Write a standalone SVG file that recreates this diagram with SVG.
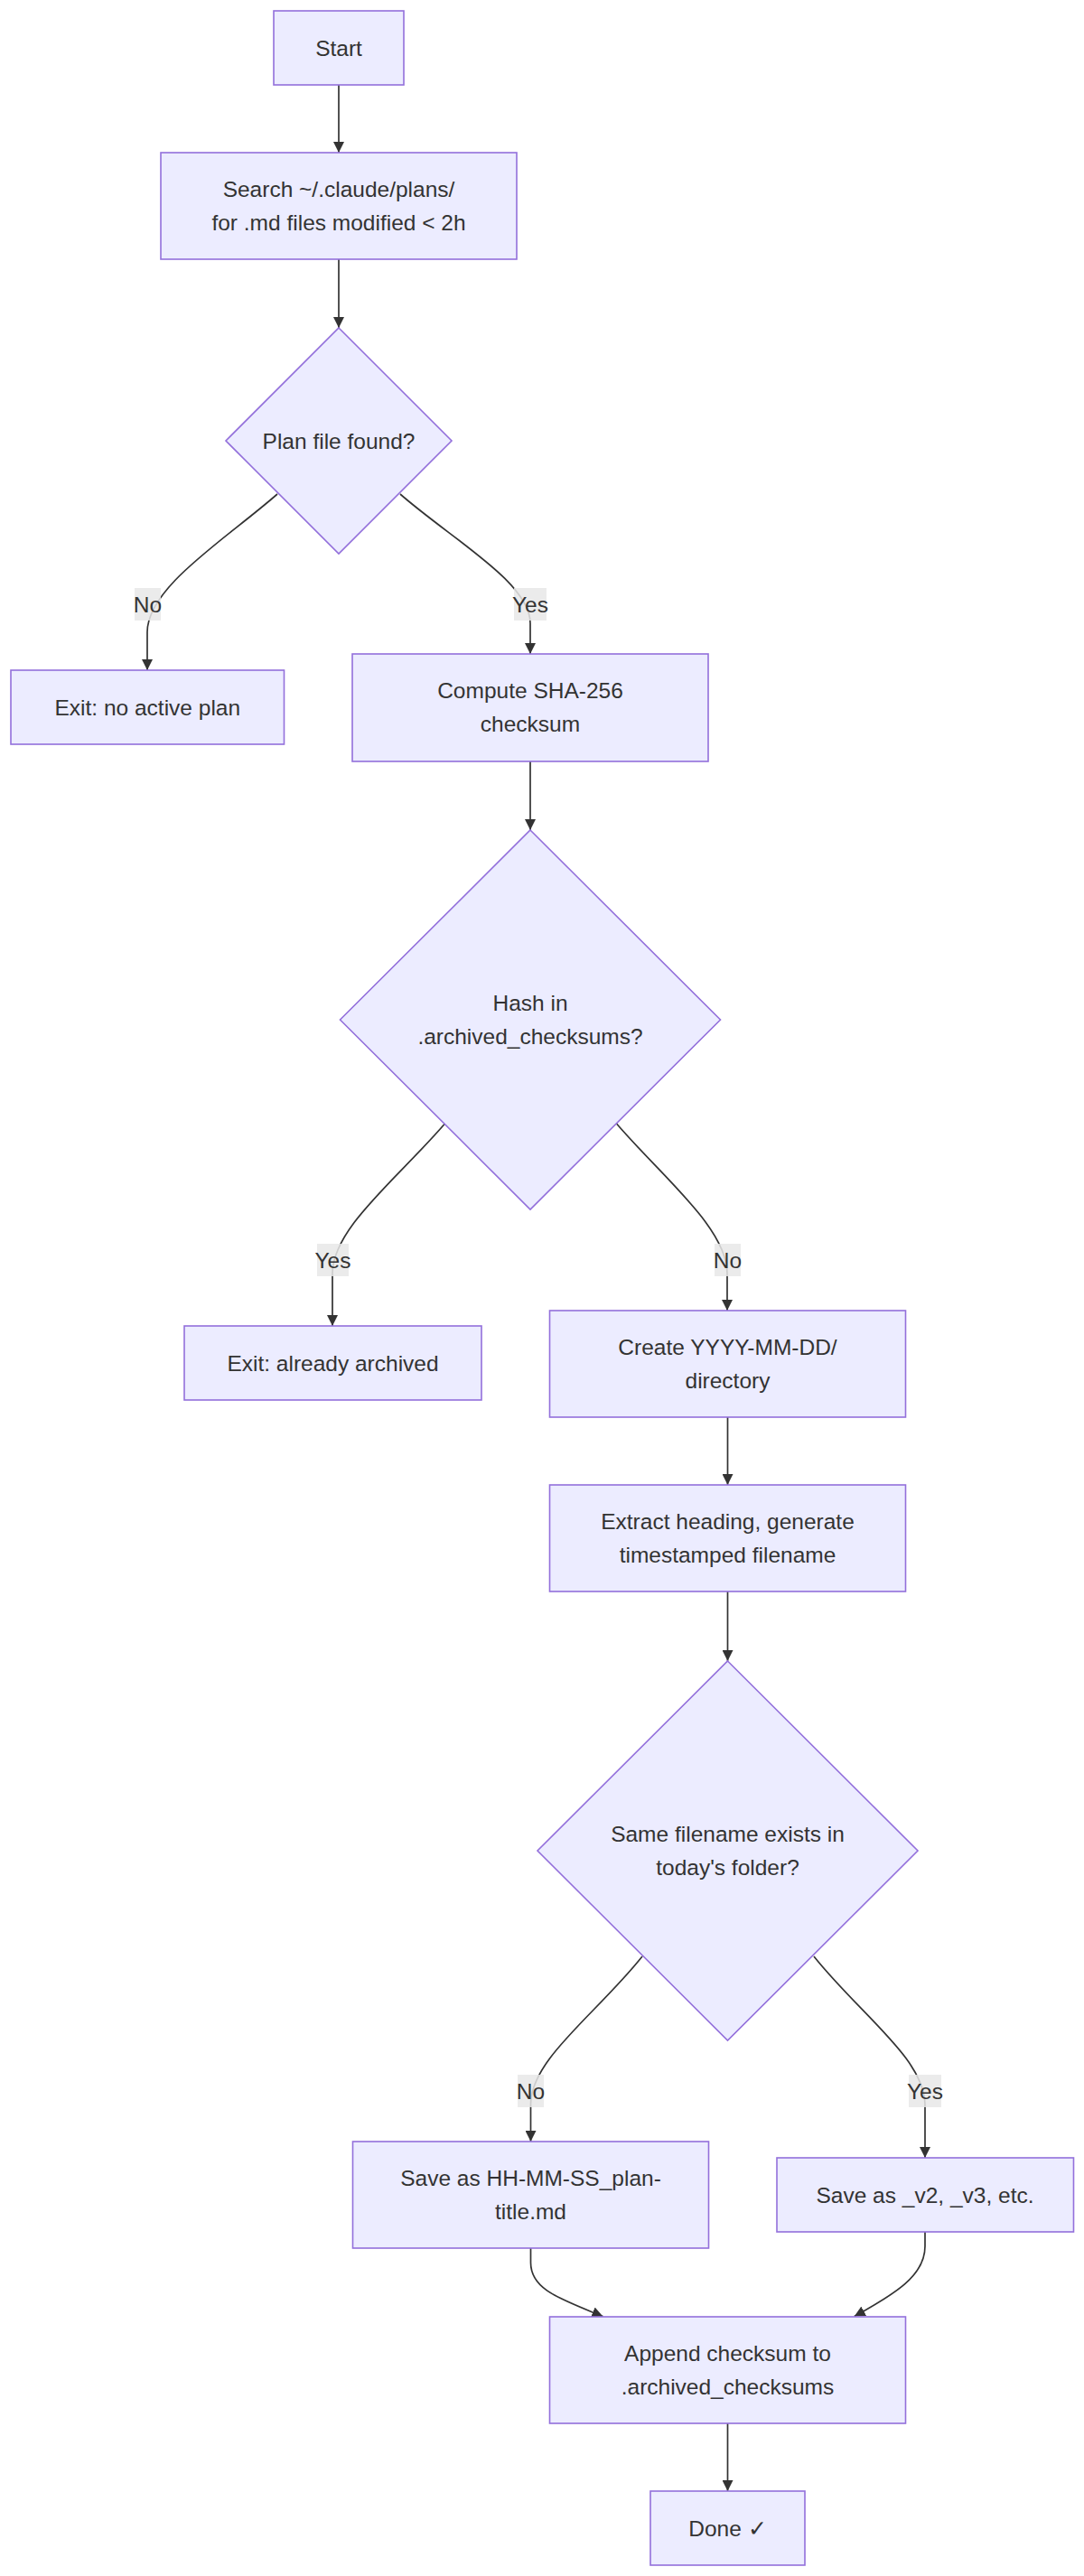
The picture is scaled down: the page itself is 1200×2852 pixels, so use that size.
<svg xmlns="http://www.w3.org/2000/svg" width="1200" height="2852" viewBox="0 0 1200 2852">
<style>
.node rect, .node polygon { fill: #ECECFF; stroke: #9370DB; stroke-width: 1.6; }
.node text { font-family: "Liberation Sans", Arial, sans-serif; font-size: 24.5px; fill: #333; text-anchor: middle; dominant-baseline: central; }
.edges path { fill: none; stroke: #333; stroke-width: 1.7; }
.elabel rect { fill: #e8e8e8; fill-opacity: 0.85; }
.elabel text { font-family: "Liberation Sans", Arial, sans-serif; font-size: 24.5px; fill: #333; text-anchor: middle; dominant-baseline: central; }
</style>
<defs>
<marker id="arrow" viewBox="0 0 10 10" refX="10" refY="5" markerUnits="userSpaceOnUse" markerWidth="12" markerHeight="12" orient="auto">
<path d="M0,0 L10,5 L0,10 z" fill="#333"/>
</marker>
</defs>
<rect width="1200" height="2852" fill="#ffffff"/>
<g class="edges">
<path marker-end="url(#arrow)" d="M375,94 L375,169"/>
<path marker-end="url(#arrow)" d="M375,287 L375,363"/>
<path marker-end="url(#arrow)" d="M307,547 C250,597 163,650 163,700 L163,742"/>
<path marker-end="url(#arrow)" d="M443,547 C500,597 587,645 587,690 L587,724"/>
<path marker-end="url(#arrow)" d="M587,843 L587,919"/>
<path marker-end="url(#arrow)" d="M492.5,1244 C440,1305 368,1360 368,1410 L368,1468"/>
<path marker-end="url(#arrow)" d="M682.5,1244 C735,1305 805,1360 805,1410 L805,1451"/>
<path marker-end="url(#arrow)" d="M805.5,1569 L805.5,1644"/>
<path marker-end="url(#arrow)" d="M805.5,1762 L805.5,1839"/>
<path marker-end="url(#arrow)" d="M711,2166 C660,2230 587.5,2280 587.5,2330 L587.5,2371"/>
<path marker-end="url(#arrow)" d="M901,2166 C952,2230 1024,2280 1024,2330 L1024,2389"/>
<path marker-end="url(#arrow)" d="M587.5,2489 L587.5,2505 C587.5,2535 620,2545 667.4,2564.6"/>
<path marker-end="url(#arrow)" d="M1024,2471 L1024,2487 C1024,2520 990,2540 945.8,2564.6"/>
<path marker-end="url(#arrow)" d="M805.5,2683 L805.5,2758"/>
</g>
<g class="elabel" id="label-d1-no"><rect x="149" y="651" width="29" height="36"/><text x="163.5" y="669">No</text></g>
<g class="elabel" id="label-d1-yes"><rect x="569" y="651" width="36" height="36"/><text x="587" y="669">Yes</text></g>
<g class="elabel" id="label-d2-yes"><rect x="351" y="1377" width="35" height="36"/><text x="368.5" y="1395">Yes</text></g>
<g class="elabel" id="label-d2-no"><rect x="791" y="1377" width="29" height="36"/><text x="805.5" y="1395">No</text></g>
<g class="elabel" id="label-d3-no"><rect x="573" y="2297" width="29" height="36"/><text x="587.5" y="2315">No</text></g>
<g class="elabel" id="label-d3-yes"><rect x="1006" y="2297" width="36" height="36"/><text x="1024" y="2315">Yes</text></g>

<g class="node" id="start"><rect x="303" y="12" width="144" height="82"/><text x="375" y="53">Start</text></g>
<g class="node" id="search"><rect x="178" y="169" width="394" height="118"/><text x="375" y="209.5">Search ~/.claude/plans/</text><text x="375" y="246.5">for .md files modified &lt; 2h</text></g>
<g class="node" id="found"><polygon points="375,363 500,488 375,613 250,488"/><text x="375" y="488">Plan file found?</text></g>
<g class="node" id="exit-noplan"><rect x="12" y="742" width="302.5" height="82"/><text x="163.3" y="783">Exit: no active plan</text></g>
<g class="node" id="compute"><rect x="390" y="724" width="394" height="119"/><text x="587" y="764.5">Compute SHA-256</text><text x="587" y="801.5">checksum</text></g>
<g class="node" id="hashin"><polygon points="587,919 797.5,1129 587,1339 376.5,1129"/><text x="587" y="1110">Hash in</text><text x="587" y="1147">.archived_checksums?</text></g>
<g class="node" id="exit-archived"><rect x="204" y="1468" width="329" height="82"/><text x="368.5" y="1509">Exit: already archived</text></g>
<g class="node" id="create"><rect x="608.5" y="1451" width="394" height="118"/><text x="805.5" y="1491.5">Create YYYY-MM-DD/</text><text x="805.5" y="1528.5">directory</text></g>
<g class="node" id="extract"><rect x="608.5" y="1644" width="394" height="118"/><text x="805.5" y="1684.5">Extract heading, generate</text><text x="805.5" y="1721.5">timestamped filename</text></g>
<g class="node" id="exists"><polygon points="805.5,1839 1016,2049 805.5,2259 595,2049"/><text x="805.5" y="2030.5">Same filename exists in</text><text x="805.5" y="2067.5">today's folder?</text></g>
<g class="node" id="save-new"><rect x="390.5" y="2371" width="394" height="118"/><text x="587.5" y="2411.5">Save as HH-MM-SS_plan-</text><text x="587.5" y="2448.5">title.md</text></g>
<g class="node" id="save-ver"><rect x="860" y="2389" width="328.5" height="82"/><text x="1024" y="2430">Save as _v2, _v3, etc.</text></g>
<g class="node" id="append"><rect x="608.5" y="2565" width="394" height="118"/><text x="805.5" y="2605.5">Append checksum to</text><text x="805.5" y="2642.5">.archived_checksums</text></g>
<g class="node" id="done"><rect x="720" y="2758" width="171" height="82"/><text x="805.5" y="2799">Done ✓</text></g>
</svg>
